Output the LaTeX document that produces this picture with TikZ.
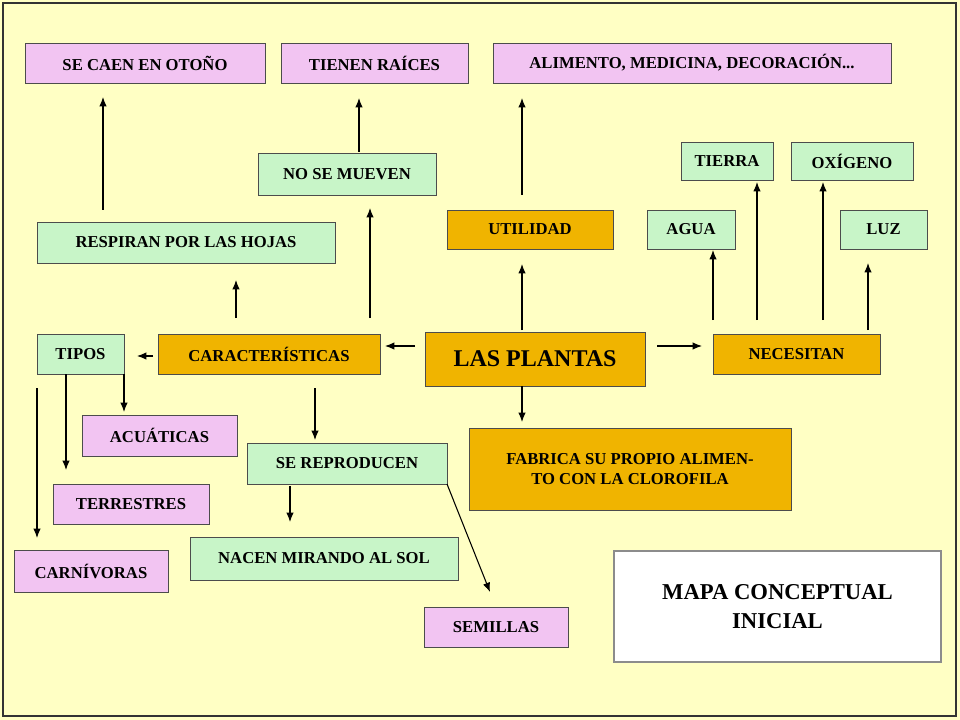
\documentclass[tikz,border=0pt]{standalone}
\usepackage{fontspec}
\setmainfont{Liberation Serif}
\usetikzlibrary{arrows.meta}
\begin{document}
\begin{tikzpicture}[x=0.75pt,y=-0.75pt,
 bx/.style={draw=black!70,line width=0.6pt,inner sep=0pt,font=\bfseries\fontsize{12.5}{15}\selectfont},
 pk/.style={bx,fill=pinkc},
 gr/.style={bx,fill=greenc},
 og/.style={bx,fill=orangec},
 ar/.style={-{Latex[length=7pt,width=5.5pt]},line width=0.8pt}]
\definecolor{bgc}{HTML}{FFFFC4}
\definecolor{pinkc}{HTML}{F2C4F2}
\definecolor{greenc}{HTML}{C8F5C8}
\definecolor{orangec}{HTML}{F0B400}
\useasboundingbox (0,0) rectangle (960,720);
\fill[bgc] (0,0) rectangle (960,720);
\draw[black!80,line width=1.2pt] (3,3) rectangle (956,716);
\newcommand{\bxn}[6]{\node[#1,minimum width=#4*0.75pt-#2*0.75pt,minimum height=#5*0.75pt-#3*0.75pt] (#6) at ({(#2+#4)/2},{(#3+#5)/2})}
\bxn{pk}{25}{43}{265}{83}{caen}{SE CAEN EN OTOÑO};
\bxn{pk}{281}{43}{468}{83}{raices}{TIENEN RAÍCES};
\bxn{pk}{493}{43}{891}{83}{alim}{ALIMENTO, MEDICINA, DECORACIÓN...};
\bxn{gr}{258}{153}{436}{195}{mueven}{NO SE MUEVEN};
\bxn{gr}{681}{142}{773}{180}{tierra}{TIERRA};
\bxn{gr}{791}{142}{913}{180}{oxi}{OXÍGENO};
\bxn{gr}{37}{222}{335}{263}{resp}{RESPIRAN POR LAS HOJAS};
\bxn{og}{447}{210}{613}{249}{util}{UTILIDAD};
\bxn{gr}{647}{210}{735}{249}{agua}{AGUA};
\bxn{gr}{840}{210}{927}{249}{luz}{LUZ};
\bxn{gr}{37}{334}{124}{374}{tipos}{TIPOS};
\bxn{og}{158}{334}{380}{374}{car}{CARACTERÍSTICAS};
\bxn{og,font=\bfseries\fontsize{18}{20}\selectfont}{425}{332}{645}{386}{plantas}{LAS PLANTAS};
\bxn{og}{713}{334}{880}{374}{nec}{NECESITAN};
\bxn{pk}{82}{415}{237}{456}{acu}{ACUÁTICAS};
\bxn{gr}{247}{443}{447}{484}{repro}{SE REPRODUCEN};
\bxn{og,align=center}{469}{428}{791}{510}{fab}{FABRICA SU PROPIO ALIMEN-\\TO CON LA CLOROFILA};
\bxn{pk}{53}{484}{209}{524}{terr}{TERRESTRES};
\bxn{pk}{14}{550}{168}{592}{carn}{CARNÍVORAS};
\bxn{gr}{190}{537}{458}{580}{nacen}{NACEN MIRANDO AL SOL};
\bxn{pk}{424}{607}{568}{647}{sem}{SEMILLAS};
\bxn{bx,fill=white,draw=black!45,line width=1pt,align=center,font=\bfseries\fontsize{17}{22}\selectfont}{614}{551}{941}{662}{mapa}{MAPA CONCEPTUAL\\INICIAL};
\coordinate (a1) at (103,210); \draw[ar] (a1) -- (103,97);
\coordinate (a2) at (236,318); \draw[ar] (a2) -- (236,280);
\coordinate (a3) at (370,318); \draw[ar] (a3) -- (370,208);
\coordinate (a4) at (359,152); \draw[ar] (a4) -- (359,98);
\coordinate (a5) at (522,195); \draw[ar] (a5) -- (522,98);
\coordinate (a6) at (522,330); \draw[ar] (a6) -- (522,264);
\coordinate (a7) at (415,346); \draw[ar] (a7) -- (385,346);
\coordinate (a8) at (153,356); \draw[ar] (a8) -- (137,356);
\coordinate (a9) at (657,346); \draw[ar] (a9) -- (702,346);
\coordinate (b1) at (713,320); \draw[ar] (b1) -- (713,250);
\coordinate (b2) at (757,320); \draw[ar] (b2) -- (757,182);
\coordinate (b3) at (823,320); \draw[ar] (b3) -- (823,182);
\coordinate (b4) at (868,330); \draw[ar] (b4) -- (868,263);
\coordinate (b5) at (522,386); \draw[ar] (b5) -- (522,422);
\coordinate (b6) at (315,388); \draw[ar] (b6) -- (315,440);
\coordinate (c1) at (124,374); \draw[ar] (c1) -- (124,412);
\coordinate (c2) at (66,374); \draw[ar] (c2) -- (66,470);
\coordinate (c3) at (37,388); \draw[ar] (c3) -- (37,538);
\coordinate (c4) at (290,486); \draw[ar] (c4) -- (290,522);
\coordinate (c5) at (447,484); \draw[ar] (c5) -- (490,592);
\end{tikzpicture}
\end{document}
